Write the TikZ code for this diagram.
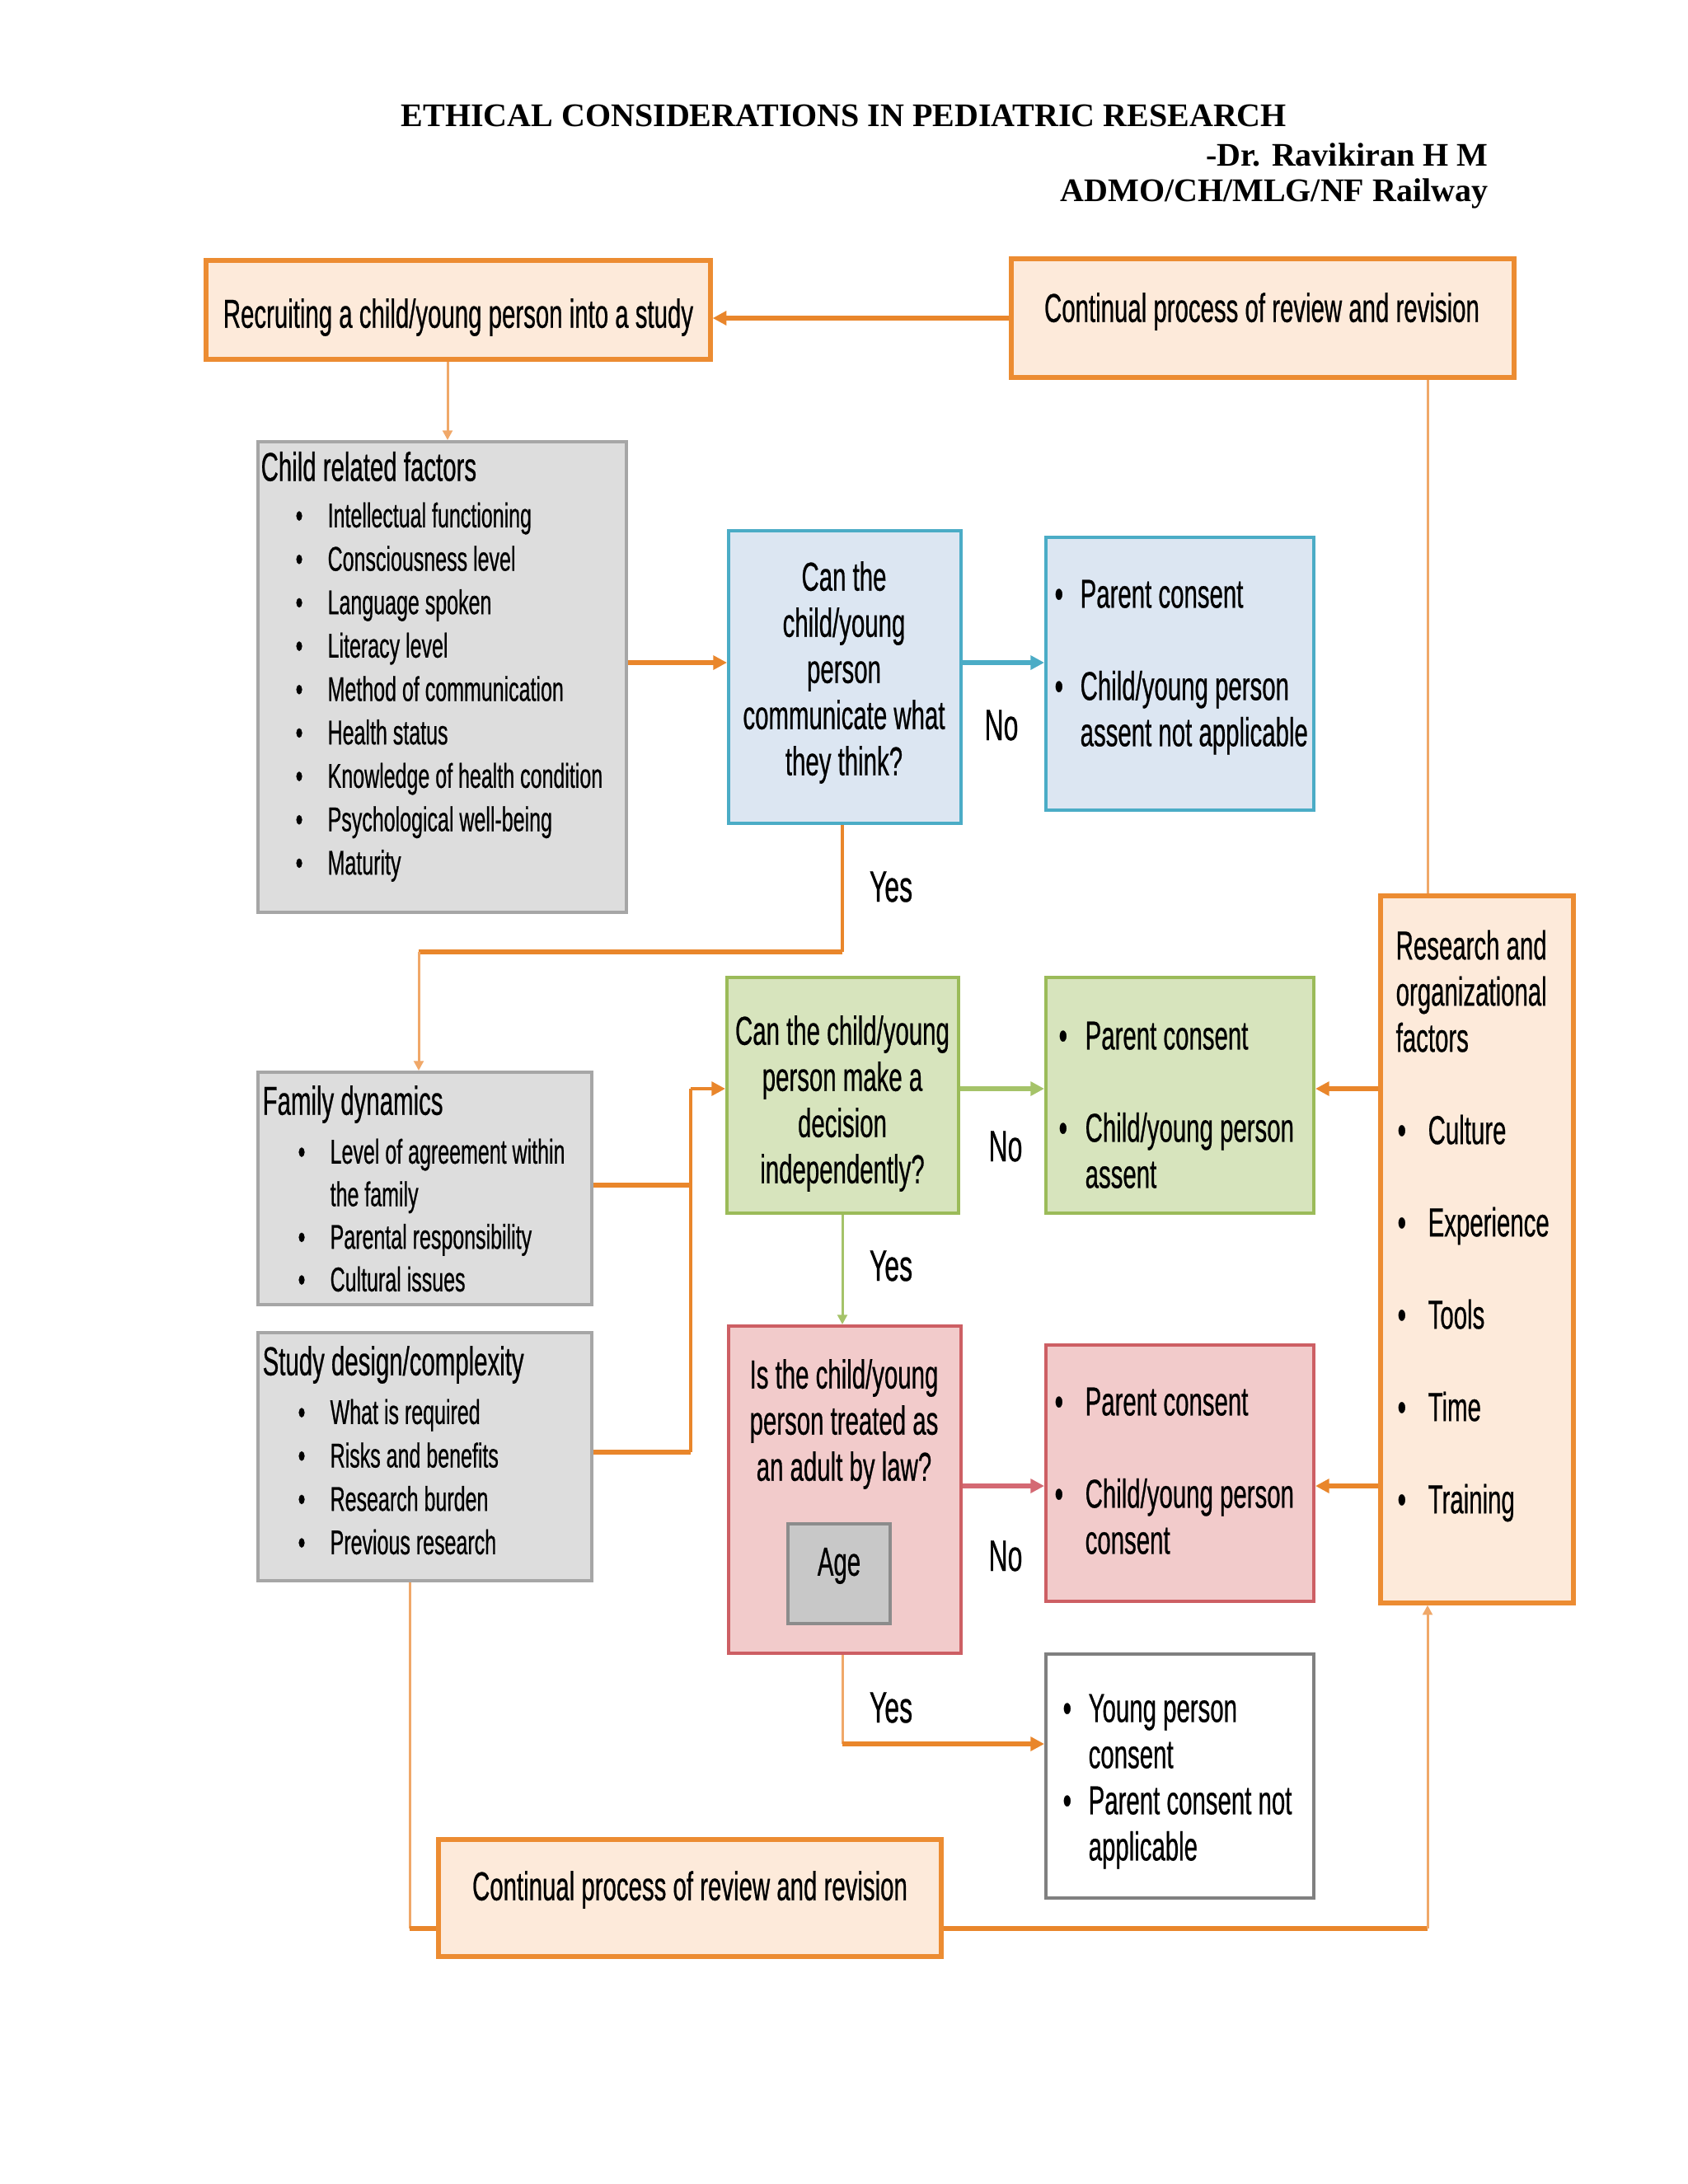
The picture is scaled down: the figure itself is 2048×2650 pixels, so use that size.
\documentclass[tikz,border=0pt]{standalone}
\usepackage{fontspec}
\setmainfont{Liberation Sans}[FakeStretch=0.6, FakeBold=0.5]
\newfontfamily\titlefont{Liberation Serif}
\usetikzlibrary{arrows.meta,fit,calc}
\definecolor{orln}{RGB}{233,134,43}
\definecolor{orlt}{RGB}{240,168,105}
\definecolor{orbd}{RGB}{236,140,50}
\definecolor{peach}{RGB}{253,234,218}
\definecolor{grbd}{RGB}{166,166,166}
\definecolor{grfl}{RGB}{221,221,221}
\definecolor{blbd}{RGB}{75,172,198}
\definecolor{blfl}{RGB}{220,230,242}
\definecolor{gnbd}{RGB}{155,187,89}
\definecolor{gnfl}{RGB}{215,228,189}
\definecolor{gnln}{RGB}{165,195,105}
\definecolor{rdbd}{RGB}{205,95,100}
\definecolor{rdfl}{RGB}{242,203,203}
\definecolor{rdln}{RGB}{212,105,115}
\definecolor{agfl}{RGB}{200,200,200}
\definecolor{agbd}{RGB}{140,140,140}
\definecolor{whbd}{RGB}{128,128,128}
\newcommand\mainsz{\fontsize{14.7}{16.8}\selectfont}
\newcommand\smallsz{\fontsize{12.5}{15.8}\selectfont}
\newcommand\ynsz{\fontsize{16}{19}\selectfont}
\newcommand\bul[1]{\makebox[#1][l]{\textbullet}}
\begin{document}
\begin{tikzpicture}[x=0.3pt,y=-0.3pt,
  box/.style={draw, inner sep=0pt, line width=1.2pt},
  obox/.style={box, draw=orbd, fill=peach, line width=1.6pt},
  gbox/.style={box, draw=grbd, fill=grfl},
  bbox/.style={box, draw=blbd, fill=blfl},
  gnbox/.style={box, draw=gnbd, fill=gnfl},
  rbox/.style={box, draw=rdbd, fill=rdfl},
  abox/.style={box, draw=agbd, fill=agfl},
  wbox/.style={box, draw=whbd, fill=white},
  txt/.style={inner sep=0pt, font=\mainsz, align=center},
  ltxt/.style={inner sep=0pt, font=\mainsz, align=left, anchor=north west},
  stxt/.style={inner sep=0pt, font=\smallsz, align=left, anchor=north west},
  head/.style={inner sep=0pt, font=\mainsz, anchor=west},
  yn/.style={inner sep=0pt, font=\ynsz},
  thk/.style={draw=orln, line width=1.8pt},
  med/.style={draw=orln, line width=1.2pt},
  thn/.style={draw=orlt, line width=0.9pt},
  tipb/.style={-{Triangle[length=5pt,width=5pt]}},
  tips/.style={-{Triangle[length=3.5pt,width=3.5pt]}}
]
\fill[white] (0,0) rectangle (2048,2650);
\useasboundingbox (0,0) rectangle (2048,2650);

% title
\node[inner sep=0pt, font=\titlefont\bfseries\fontsize{12}{14}\selectfont] (title) at (1024,140) {ETHICAL CONSIDERATIONS IN PEDIATRIC RESEARCH};
\node[inner sep=0pt, anchor=east, font=\titlefont\bfseries\fontsize{12}{14}\selectfont] (author) at (1806,188) {-Dr. Ravikiran H M};
\node[inner sep=0pt, anchor=east, font=\titlefont\bfseries\fontsize{12}{14}\selectfont] (affil) at (1806,235) {ADMO/CH/MLG/NF Railway};

% boxes
\node[obox, fit={(250,316)(862,436)}] (recruit) {};
\node[obox, fit={(1227,314)(1837,458)}] (cont1) {};
\node[gbox, fit={(313,536)(760,1107)}] (child) {};
\node[bbox, fit={(884,644)(1166,999)}] (q1) {};
\node[bbox, fit={(1269,652)(1594,983)}] (a1) {};
\node[gbox, fit={(313,1301)(718,1583)}] (family) {};
\node[gbox, fit={(313,1617)(718,1918)}] (study) {};
\node[gnbox, fit={(882,1186)(1163,1472)}] (q2) {};
\node[gnbox, fit={(1269,1186)(1594,1472)}] (a2) {};
\node[rbox, fit={(884,1609)(1166,2006)}] (q3) {};
\node[abox, fit={(956,1849)(1080,1970)}] (age) {};
\node[rbox, fit={(1269,1632)(1594,1943)}] (a3) {};
\node[wbox, fit={(1269,2007)(1594,2303)}] (a4) {};
\node[obox, fit={(1675,1087)(1909,1945)}] (res) {};
\node[obox, fit={(532,2232)(1142,2374)}] (cont2) {};

% texts
\node[txt] (trecruit) at (556,385) {Recruiting a child/young person into a study};
\node[txt] (tcont1) at (1531,378) {Continual process of review and revision};
\node[txt] (tcont2) at (837,2293) {Continual process of review and revision};
\node[head] (hchild) at (316,566) {Child related factors};
\node[stxt] (lchild) at (358,609) {\bul{11.7pt}Intellectual functioning\\\bul{11.7pt}Consciousness level\\\bul{11.7pt}Language spoken\\\bul{11.7pt}Literacy level\\\bul{11.7pt}Method of communication\\\bul{11.7pt}Health status\\\bul{11.7pt}Knowledge of health condition\\\bul{11.7pt}Psychological well-being\\\bul{11.7pt}Maturity};
\node[txt] (tq1) at (1024,816) {Can the\\child/young\\person\\communicate what\\they think?};
\node[ltxt] (ta1) at (1279,703) {\bul{9.3pt}Parent consent\\[16.8pt]\bul{9.3pt}Child/young person\\\hspace*{9.3pt}assent not applicable};
\node[head] (hfamily) at (318,1340) {Family dynamics};
\node[stxt, font=\fontsize{12.5}{15.5}\selectfont] (lfamily) at (361,1381) {\bul{11.7pt}Level of agreement within\\\hspace*{11.7pt}the family\\\bul{11.7pt}Parental responsibility\\\bul{11.7pt}Cultural issues};
\node[head] (hstudy) at (318,1656) {Study design/complexity};
\node[stxt] (lstudy) at (361,1697) {\bul{11.7pt}What is required\\\bul{11.7pt}Risks and benefits\\\bul{11.7pt}Research burden\\\bul{11.7pt}Previous research};
\node[txt] (tq2) at (1022,1339) {Can the child/young\\person make a\\decision\\independently?};
\node[ltxt] (ta2) at (1284,1239) {\bul{9.6pt}Parent consent\\[16.8pt]\bul{9.6pt}Child/young person\\\hspace*{9.6pt}assent};
\node[txt] (tq3) at (1024,1728) {Is the child/young\\person treated as\\an adult by law?};
\node[txt] (tage) at (1018,1900) {Age};
\node[ltxt] (ta3) at (1279,1683) {\bul{11.1pt}Parent consent\\[16.8pt]\bul{11.1pt}Child/young person\\\hspace*{11.1pt}consent};
\node[ltxt] (ta4) at (1289,2055) {\bul{9.3pt}Young person\\\hspace*{9.3pt}consent\\\bul{9.3pt}Parent consent not\\\hspace*{9.3pt}applicable};
\node[ltxt] (hres) at (1693,1128) {Research and\\organizational\\factors};
\node[ltxt] (lres) at (1695,1352) {\bul{11.1pt}Culture\\[16.8pt]\bul{11.1pt}Experience\\[16.8pt]\bul{11.1pt}Tools\\[16.8pt]\bul{11.1pt}Time\\[16.8pt]\bul{11.1pt}Training};

% yes/no labels
\node[yn] (no1) at (1215,880) {No};
\node[yn] (no2) at (1220,1391) {No};
\node[yn] (no3) at (1220,1888) {No};
\node[yn] (yes1) at (1081,1076) {Yes};
\node[yn] (yes2) at (1081,1536) {Yes};
\node[yn] (yes3) at (1081,2072) {Yes};

% helper coordinates
\coordinate (c543) at (543,0);
\coordinate (c1732) at (1732,0);
\coordinate (c1022) at (1022,0);
\coordinate (c508) at (508,0);
\coordinate (c838) at (838,0);
\coordinate (c497) at (497,0);
\coordinate (r804) at (0,804);
\coordinate (r1155) at (0,1155);
\coordinate (r1438) at (0,1438);
\coordinate (r1762) at (0,1762);
\coordinate (r1321) at (0,1321);
\coordinate (r1803) at (0,1803);
\coordinate (r2116) at (0,2116);
\coordinate (r2340) at (0,2340);

% connectors
\draw[thk, tipb] (cont1.west) -- (recruit.east |- cont1.west);
\draw[thn, tips] (recruit.south -| c543) -- (child.north -| c543);
\draw[thn] (cont1.south -| c1732) -- (res.north -| c1732);
\draw[thk, tipb] (child.east |- r804) -- (q1.west |- r804);
\draw[draw=blbd, line width=1.8pt, tipb] (q1.east |- r804) -- (a1.west |- r804);
% Q1 yes
\draw[med] (q1.south -| c1022) -- (c1022 |- r1155);
\draw[thk] (c1022 |- r1155) -- (c508 |- r1155);
\draw[thn, tips] (c508 |- r1155) -- (family.north -| c508);
% family/study to Q2
\draw[thk] (family.east |- r1438) -- (c838 |- r1438);
\draw[thk] (study.east |- r1762) -- (c838 |- r1762);
\draw[med] (c838 |- r1762) -- (c838 |- r1321);
\draw[med, tipb] (c838 |- r1321) -- (q2.west |- r1321);
\draw[draw=gnln, line width=1.6pt, tipb] (q2.east |- r1321) -- (a2.west |- r1321);
\draw[draw=gnln, line width=0.9pt, tips] (q2.south -| c1022) -- (q3.north -| c1022);
\draw[draw=rdln, line width=1.6pt, tipb] (q3.east |- r1803) -- (a3.west |- r1803);
% Q3 yes
\draw[thn] (q3.south -| c1022) -- (c1022 |- r2116);
\draw[thk, tipb] (c1022 |- r2116) -- (a4.west |- r2116);
% research to answers
\draw[thk, tipb] (res.west |- r1321) -- (a2.east |- r1321);
\draw[thk, tipb] (res.west |- r1803) -- (a3.east |- r1803);
% bottom loop
\draw[thn] (study.south -| c497) -- (c497 |- r2340);
\draw[thk] (c497 |- r2340) -- (cont2.west |- r2340);
\draw[thk] (cont2.east |- r2340) -- (c1732 |- r2340);
\draw[thn, tips] (c1732 |- r2340) -- (res.south -| c1732);
\end{tikzpicture}
\end{document}
